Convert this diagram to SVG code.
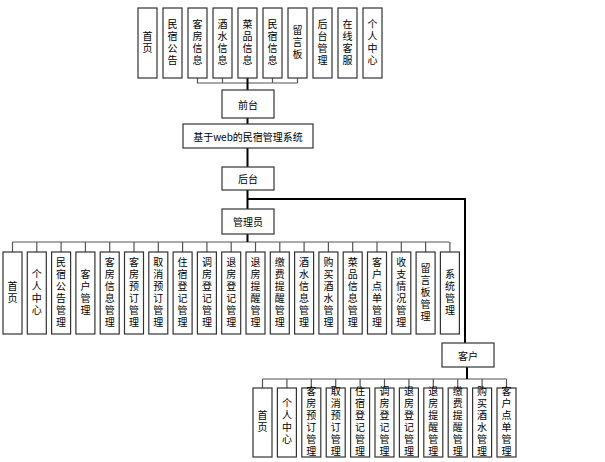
<svg xmlns="http://www.w3.org/2000/svg" width="605" height="462" viewBox="0 0 605 462">
<style>
rect{fill:#fff;stroke:#333;stroke-width:1.2}
text{font-family:"Noto Sans CJK SC","Liberation Sans",sans-serif;font-size:10px;fill:#000}
.v{writing-mode:tb;text-anchor:middle;letter-spacing:2px;dominant-baseline:central}
.h{text-anchor:middle;dominant-baseline:central}
#c path{fill:none;stroke:#555;stroke-width:1.2}
#c .k{stroke:#000;stroke-width:2}
</style>
<rect x="0" y="0" width="605" height="462" style="fill:#fff;stroke:none"/>
<g id="c">
<path d="M197.5 78V83H297.5M222.5 78V83M272.5 78V83M297.5 78V83"/>
<path class="k" d="M247.5 78V90M247.5 118V124M247.5 148V167M247.5 190V209M247.5 199H465V343"/>
<path d="M12.5 242H449.5M12.5 242V252"/>
<path d="M36.8 242V252M61.1 242V252M85.4 242V252M109.7 242V252M134 242V252M158.3 242V252M182.6 242V252M206.9 242V252M231.2 242V252M255.5 242V252M279.8 242V252M304.1 242V252M328.4 242V252M352.7 242V252M377 242V252M401.3 242V252M425.6 242V252M449.9 242V252"/>
<path class="k" d="M247.5 234V242"/>
<path d="M262.5 379H506.5M262.5 379V388M286.9 379V388M311.3 379V388M335.7 379V388M360.1 379V388M384.5 379V388M408.9 379V388M433.3 379V388M457.7 379V388M482.1 379V388M506.5 379V388"/>
<path class="k" d="M467 367V379"/>
</g>
<g id="top">
<g><rect x="138" y="8" width="19" height="70"/><text class="v" x="147.5" y="43">首页</text></g>
<g><rect x="163" y="8" width="19" height="70"/><text class="v" x="172.5" y="43">民宿公告</text></g>
<g><rect x="188" y="8" width="19" height="70"/><text class="v" x="197.5" y="43">客房信息</text></g>
<g><rect x="213" y="8" width="19" height="70"/><text class="v" x="222.5" y="43">酒水信息</text></g>
<g><rect x="238" y="8" width="19" height="70"/><text class="v" x="247.5" y="43">菜品信息</text></g>
<g><rect x="263" y="8" width="19" height="70"/><text class="v" x="272.5" y="43">民宿信息</text></g>
<g><rect x="288" y="8" width="19" height="70"/><text class="v" x="297.5" y="43">留言板</text></g>
<g><rect x="313" y="8" width="19" height="70"/><text class="v" x="322.5" y="43">后台管理</text></g>
<g><rect x="338" y="8" width="19" height="70"/><text class="v" x="347.5" y="43">在线客服</text></g>
<g><rect x="363" y="8" width="19" height="70"/><text class="v" x="372.5" y="43">个人中心</text></g>
</g>
<g id="qiantai"><rect x="222" y="90" width="52" height="28"/><text class="h" x="248" y="104">前台</text></g>
<g id="system"><rect x="183" y="124" width="130" height="24"/><text class="h" x="248" y="136">基于web的民宿管理系统</text></g>
<g id="houtai"><rect x="222" y="167" width="52" height="23"/><text class="h" x="248" y="178.5">后台</text></g>
<g id="admin"><rect x="222" y="209" width="52" height="25"/><text class="h" x="248" y="221.5">管理员</text></g>
<g id="kehu"><rect x="442" y="343" width="52" height="24"/><text class="h" x="468" y="355">客户</text></g>
<g id="adminItems">
<g><rect x="3" y="252" width="19" height="82"/><text class="v" x="12.5" y="293">首页</text></g>
<g><rect x="27.3" y="252" width="19" height="82"/><text class="v" x="36.8" y="293">个人中心</text></g>
<g><rect x="51.6" y="252" width="19" height="82"/><text class="v" x="61.1" y="293">民宿公告管理</text></g>
<g><rect x="75.9" y="252" width="19" height="82"/><text class="v" x="85.4" y="293">客户管理</text></g>
<g><rect x="100.2" y="252" width="19" height="82"/><text class="v" x="109.7" y="293">客房信息管理</text></g>
<g><rect x="124.5" y="252" width="19" height="82"/><text class="v" x="134" y="293">客房预订管理</text></g>
<g><rect x="148.8" y="252" width="19" height="82"/><text class="v" x="158.3" y="293">取消预订管理</text></g>
<g><rect x="173.1" y="252" width="19" height="82"/><text class="v" x="182.6" y="293">住宿登记管理</text></g>
<g><rect x="197.4" y="252" width="19" height="82"/><text class="v" x="206.9" y="293">调房登记管理</text></g>
<g><rect x="221.7" y="252" width="19" height="82"/><text class="v" x="231.2" y="293">退房登记管理</text></g>
<g><rect x="246" y="252" width="19" height="82"/><text class="v" x="255.5" y="293">退房提醒管理</text></g>
<g><rect x="270.3" y="252" width="19" height="82"/><text class="v" x="279.8" y="293">缴费提醒管理</text></g>
<g><rect x="294.6" y="252" width="19" height="82"/><text class="v" x="304.1" y="293">酒水信息管理</text></g>
<g><rect x="318.9" y="252" width="19" height="82"/><text class="v" x="328.4" y="293">购买酒水管理</text></g>
<g><rect x="343.2" y="252" width="19" height="82"/><text class="v" x="352.7" y="293">菜品信息管理</text></g>
<g><rect x="367.5" y="252" width="19" height="82"/><text class="v" x="377" y="293">客户点单管理</text></g>
<g><rect x="391.8" y="252" width="19" height="82"/><text class="v" x="401.3" y="293">收支情况管理</text></g>
<g><rect x="416.1" y="252" width="19" height="82"/><text class="v" x="425.6" y="293">留言板管理</text></g>
<g><rect x="440.4" y="252" width="19" height="82"/><text class="v" x="449.9" y="293">系统管理</text></g>
</g>
<g id="clientItems">
<g><rect x="253" y="388" width="19" height="69"/><text class="v" x="262.5" y="422.5">首页</text></g>
<g><rect x="277.4" y="388" width="19" height="69"/><text class="v" x="286.9" y="422.5">个人中心</text></g>
<g><rect x="301.8" y="388" width="19" height="69"/><text class="v" x="311.3" y="422.5">客房预订管理</text></g>
<g><rect x="326.2" y="388" width="19" height="69"/><text class="v" x="335.7" y="422.5">取消预订管理</text></g>
<g><rect x="350.6" y="388" width="19" height="69"/><text class="v" x="360.1" y="422.5">住宿登记管理</text></g>
<g><rect x="375" y="388" width="19" height="69"/><text class="v" x="384.5" y="422.5">调房登记管理</text></g>
<g><rect x="399.4" y="388" width="19" height="69"/><text class="v" x="408.9" y="422.5">退房登记管理</text></g>
<g><rect x="423.8" y="388" width="19" height="69"/><text class="v" x="433.3" y="422.5">退房提醒管理</text></g>
<g><rect x="448.2" y="388" width="19" height="69"/><text class="v" x="457.7" y="422.5">缴费提醒管理</text></g>
<g><rect x="472.6" y="388" width="19" height="69"/><text class="v" x="482.1" y="422.5">购买酒水管理</text></g>
<g><rect x="497" y="388" width="19" height="69"/><text class="v" x="506.5" y="422.5">客户点单管理</text></g>
</g>
</svg>
